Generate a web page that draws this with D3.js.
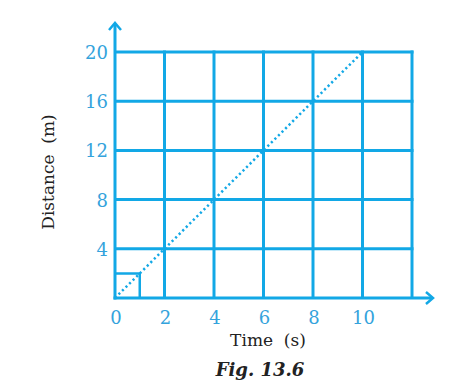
<!DOCTYPE html>
<html>
<head>
<meta charset="utf-8">
<script src="https://cdn.jsdelivr.net/npm/d3@7"></script>
<style>
  body { margin: 0; background: #fff; }
</style>
</head>
<body>
<div id="chart"></div>
<script>
// distance-time data
var lineTimes = [0, 10]
var lineDistances = [0, 20]
var boxTime = 1, boxDistance = 2
var xTicks = [0, 2, 4, 6, 8, 10]
var yTicks = [4, 8, 12, 16, 20]
var xGrid = [2, 4, 6, 8, 10, 12]
var yGrid = [4, 8, 12, 16, 20]

var blue = "#12a8e6",
    labelBlue = "#34a3dc"

var width = 470, height = 384

var svg = d3.select("#chart")
  .append("svg")
    .attr("width", width)
    .attr("height", height)

var x = d3.scaleLinear().domain([0, 12]).range([115, 412])
var y = d3.scaleLinear().domain([0, 20]).range([298, 52])

// grid
svg.selectAll(".vgrid")
  .data(xGrid)
  .enter()
  .append("line")
    .attr("x1", function(d){ return x(d) })
    .attr("x2", function(d){ return x(d) })
    .attr("y1", y(0))
    .attr("y2", y(20) - 1.5)
    .style("stroke", blue)
    .style("stroke-width", 3)

svg.selectAll(".hgrid")
  .data(yGrid)
  .enter()
  .append("line")
    .attr("x1", x(0))
    .attr("x2", x(12) + 1.5)
    .attr("y1", function(d){ return y(d) })
    .attr("y2", function(d){ return y(d) })
    .style("stroke", blue)
    .style("stroke-width", 3)

// small box at origin
svg.append("path")
  .attr("d", "M" + x(0) + "," + y(boxDistance) + "H" + x(boxTime) + "V" + y(0))
  .style("fill", "none")
  .style("stroke", blue)
  .style("stroke-width", 2.5)

// axes with arrows
svg.append("line")
  .attr("x1", x(0)).attr("y1", y(0) + 1.5)
  .attr("x2", x(0)).attr("y2", 24)
  .style("stroke", blue).style("stroke-width", 3)
svg.append("path")
  .attr("d", "M" + (x(0) - 6) + ",30L" + x(0) + ",23L" + (x(0) + 6) + ",30")
  .style("fill", "none").style("stroke", blue).style("stroke-width", 2.5)

svg.append("line")
  .attr("x1", x(0) - 1.5).attr("y1", y(0))
  .attr("x2", 432).attr("y2", y(0))
  .style("stroke", blue).style("stroke-width", 3)
svg.append("path")
  .attr("d", "M426," + (y(0) - 6) + "L433," + y(0) + "L426," + (y(0) + 6))
  .style("fill", "none").style("stroke", blue).style("stroke-width", 2.5)

// dotted line
var pts = lineTimes.map(function(t, i){ return [t, lineDistances[i]] })
svg.append("path")
  .datum(pts)
  .attr("d", d3.line()
    .x(function(d){ return x(d[0]) })
    .y(function(d){ return y(d[1]) }))
  .style("fill", "none")
  .style("stroke", blue)
  .style("stroke-width", 2.5)
  .style("stroke-dasharray", "2.2, 2.8")

// tick labels
svg.selectAll(".xlab")
  .data(xTicks)
  .enter()
  .append("text")
    .attr("x", function(d){ return x(d) + 1 })
    .attr("y", 324)
    .attr("text-anchor", "middle")
    .style("font", "18px 'DejaVu Serif', serif")
    .style("fill", labelBlue)
    .text(function(d){ return d })

svg.selectAll(".ylab")
  .data(yTicks)
  .enter()
  .append("text")
    .attr("x", 108)
    .attr("y", function(d){ return y(d) + 7 })
    .attr("text-anchor", "end")
    .style("font", "18px 'DejaVu Serif', serif")
    .style("fill", labelBlue)
    .text(function(d){ return d })

// axis titles
svg.append("text")
  .attr("transform", "translate(54,172) rotate(-90)")
  .attr("text-anchor", "middle")
  .style("font", "17px 'DejaVu Serif', serif")
  .style("fill", "#222")
  .text("Distance\u00a0\u00a0(m)")

svg.append("text")
  .attr("x", 268)
  .attr("y", 346)
  .attr("text-anchor", "middle")
  .style("font", "17px 'DejaVu Serif', serif")
  .style("fill", "#222")
  .text("Time\u00a0\u00a0(s)")

svg.append("text")
  .attr("x", 260)
  .attr("y", 376)
  .attr("text-anchor", "middle")
  .style("font", "italic bold 18px 'DejaVu Serif', serif")
  .style("fill", "#222")
  .text("Fig. 13.6")
</script>
</body>
</html>
